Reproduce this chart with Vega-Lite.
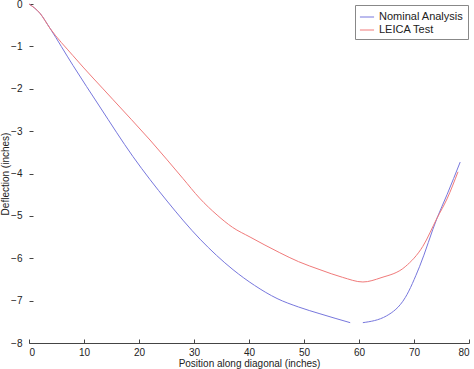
{
  "$schema": "https://vega.github.io/schema/vega-lite/v6.json",
  "width": 440,
  "height": 339,
  "autosize": "none",
  "padding": {"left": 29, "top": 4, "right": 5, "bottom": 26},
  "background": "white",
  "data": {"values": [
    {"x": 0, "y": 0, "s": "Nominal Analysis"},
    {"x": 2, "y": -0.22, "s": "Nominal Analysis"},
    {"x": 3.8, "y": -0.57, "s": "Nominal Analysis"},
    {"x": 8, "y": -1.45, "s": "Nominal Analysis"},
    {"x": 12.9, "y": -2.43, "s": "Nominal Analysis"},
    {"x": 18.9, "y": -3.6, "s": "Nominal Analysis"},
    {"x": 25.1, "y": -4.65, "s": "Nominal Analysis"},
    {"x": 31.1, "y": -5.55, "s": "Nominal Analysis"},
    {"x": 37.1, "y": -6.27, "s": "Nominal Analysis"},
    {"x": 41, "y": -6.64, "s": "Nominal Analysis"},
    {"x": 45.1, "y": -6.95, "s": "Nominal Analysis"},
    {"x": 49, "y": -7.15, "s": "Nominal Analysis"},
    {"x": 52.9, "y": -7.31, "s": "Nominal Analysis"},
    {"x": 58.4, "y": -7.52, "s": "Nominal Analysis"},
    {"x": 59.5, "y": null, "s": "Nominal Analysis"},
    {"x": 60.7, "y": -7.52, "s": "Nominal Analysis"},
    {"x": 65, "y": -7.36, "s": "Nominal Analysis"},
    {"x": 68.4, "y": -6.93, "s": "Nominal Analysis"},
    {"x": 71, "y": -6.2, "s": "Nominal Analysis"},
    {"x": 74.2, "y": -5.05, "s": "Nominal Analysis"},
    {"x": 76, "y": -4.5, "s": "Nominal Analysis"},
    {"x": 78.4, "y": -3.73, "s": "Nominal Analysis"},
    {"x": 0, "y": 0, "s": "LEICA Test"},
    {"x": 2, "y": -0.22, "s": "LEICA Test"},
    {"x": 3.8, "y": -0.57, "s": "LEICA Test"},
    {"x": 8, "y": -1.22, "s": "LEICA Test"},
    {"x": 15.3, "y": -2.26, "s": "LEICA Test"},
    {"x": 22, "y": -3.21, "s": "LEICA Test"},
    {"x": 28, "y": -4.12, "s": "LEICA Test"},
    {"x": 31, "y": -4.58, "s": "LEICA Test"},
    {"x": 34.2, "y": -4.98, "s": "LEICA Test"},
    {"x": 37, "y": -5.27, "s": "LEICA Test"},
    {"x": 40.2, "y": -5.5, "s": "LEICA Test"},
    {"x": 45.6, "y": -5.87, "s": "LEICA Test"},
    {"x": 49, "y": -6.08, "s": "LEICA Test"},
    {"x": 52.9, "y": -6.27, "s": "LEICA Test"},
    {"x": 57, "y": -6.45, "s": "LEICA Test"},
    {"x": 60.7, "y": -6.56, "s": "LEICA Test"},
    {"x": 64, "y": -6.46, "s": "LEICA Test"},
    {"x": 68.4, "y": -6.2, "s": "LEICA Test"},
    {"x": 71.6, "y": -5.72, "s": "LEICA Test"},
    {"x": 74.2, "y": -5.05, "s": "LEICA Test"},
    {"x": 76, "y": -4.6, "s": "LEICA Test"},
    {"x": 78, "y": -3.96, "s": "LEICA Test"}
  ]},
  "mark": {"type": "line", "strokeWidth": 1, "interpolate": "monotone"},
  "encoding": {
    "x": {"field": "x", "type": "quantitative",
      "scale": {"domain": [0, 80], "nice": false},
      "axis": {"title": "Position along diagonal (inches)", "values": [0,10,20,30,40,50,60,70,80],
        "grid": false, "tickSize": -4, "tickColor": "#444", "domainColor": "#444",
        "labelFont": "Liberation Sans", "labelFontSize": 10, "labelColor": "#222", "labelPadding": 8,
        "titleFont": "Liberation Sans", "titleFontSize": 10, "titleFontWeight": "normal", "titleColor": "#222", "titlePadding": 1}},
    "y": {"field": "y", "type": "quantitative",
      "scale": {"domain": [-8, 0], "nice": false},
      "axis": {"title": "Deflection (inches)", "values": [0,-1,-2,-3,-4,-5,-6,-7,-8],
        "grid": false, "domain": false, "tickSize": -4, "tickColor": "#444",
        "labelFont": "Liberation Sans", "labelFontSize": 10, "labelColor": "#222", "labelPadding": 11,
        "titleFont": "Liberation Sans", "titleFontSize": 10, "titleFontWeight": "normal", "titleColor": "#222", "titlePadding": 0}},
    "color": {"field": "s", "type": "nominal",
      "scale": {"domain": ["Nominal Analysis", "LEICA Test"], "range": ["#7777dd", "#f07a7a"]},
      "legend": {"title": null, "orient": "none", "legendX": 326, "legendY": 1,
        "symbolType": "stroke", "symbolSize": 200, "symbolStrokeWidth": 1,
        "strokeColor": "#888", "padding": 4, "rowPadding": 0,
        "labelFont": "Liberation Sans", "labelFontSize": 11, "labelColor": "#222"}}
  },
  "config": {"view": {"stroke": null}}
}
